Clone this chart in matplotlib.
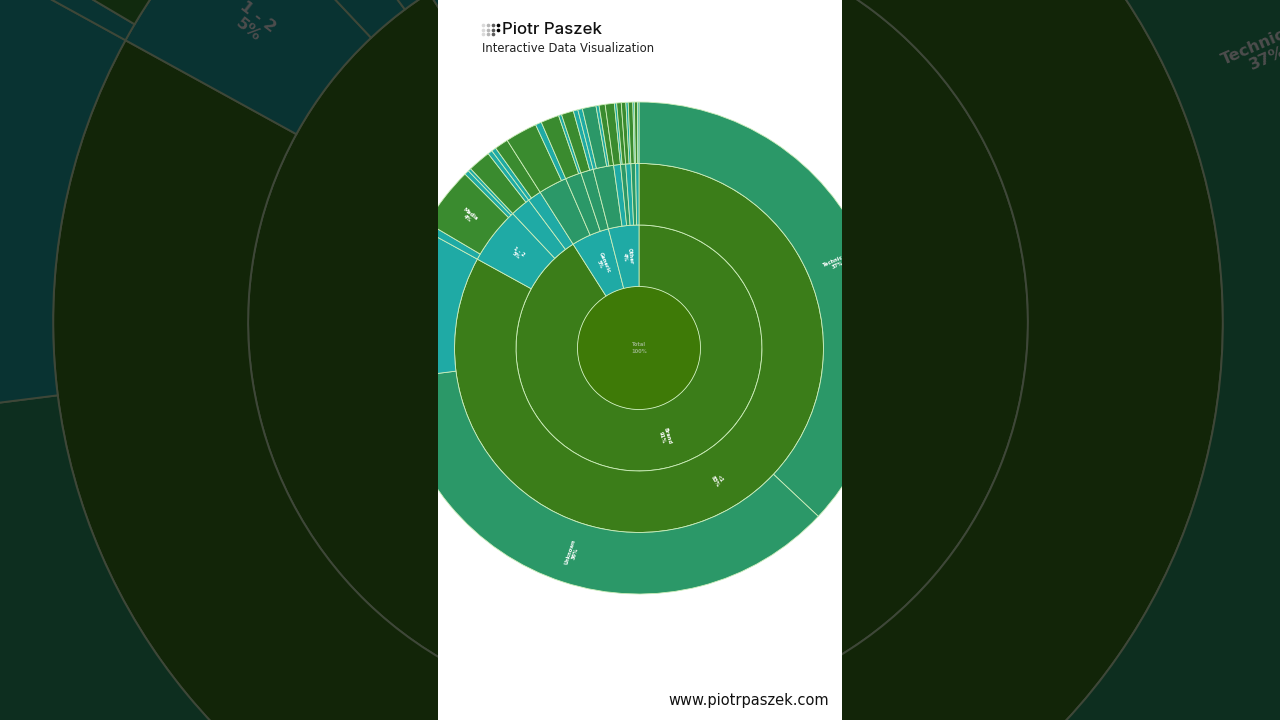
import numpy as np
import matplotlib
matplotlib.use("Agg")
import matplotlib.pyplot as plt
from matplotlib.patches import Rectangle
from matplotlib.transforms import Bbox, TransformedBbox

W, H = 1280, 720

# ---------------- data (percent of total) ----------------
root_label = "Total"
root_value = 100.0

ring1_labels = ["Brand", "Generic", "Other"]
ring1_values = [91.0, 5.0, 4.0]

ring2_labels = ["<1", "1 - 2", "2 - 3", "3+",
                "<1", "1 - 2", "2 - 3",
                "<1", "1 - 2", "2 - 3", "3 - 5", "5+", "n/a"]
ring2_parents = [0, 0, 0, 0, 1, 1, 1, 2, 2, 2, 2, 2, 2]
ring2_values = [83.0, 5.0, 1.8, 1.2, 2.5, 1.4, 1.1, 1.8, 0.6, 0.45, 0.45, 0.4, 0.3]

ring3_labels = ["Technical", "Unknown", "Direct",
                "Search", "Media", "Social", "Print",
                "Media", "Search",
                "Search", "Media",
                "Media", "Search",
                "Media", "Search",
                "Media", "Search",
                "Search", "Technical", "Social", "Media",
                "Media",
                "Search", "Media",
                "Media", "Search",
                "Media", "Search",
                "Media", "Search"]
ring3_parents = [0, 0, 0, 1, 1, 1, 1, 2, 2, 3, 3, 4, 4, 5, 5, 6, 6,
                 7, 7, 7, 7, 8, 9, 9, 10, 10, 11, 11, 12, 12]
ring3_values = [37.0, 36.0, 10.0, 0.5, 4.0, 0.3, 0.2, 1.5, 0.3, 0.3, 0.9,
                2.1, 0.4, 1.2, 0.2, 0.8, 0.3, 0.3, 0.9, 0.2, 0.4, 0.6,
                0.15, 0.3, 0.3, 0.15, 0.3, 0.1, 0.2, 0.1]

# ---------------- styles ----------------
CENTER = "#3e7a07"
GREEN = "#3b7d19"
SEA = "#2b9868"
TEAL = "#1faaa5"
MEDIA = "#3a8b2f"
EDGE = "#cdeebb"
ring1_colors = [GREEN, TEAL, TEAL]
ring2_colors = [GREEN, TEAL, TEAL, TEAL, SEA, SEA, SEA, SEA, TEAL, SEA, TEAL, SEA, TEAL]
ring3_cmap = {"Technical": SEA, "Unknown": SEA, "Media": MEDIA}
ring3_colors = [ring3_cmap.get(l, TEAL) for l in ring3_labels]


def place(values, parents, parent_starts):
    starts, offs = [], {}
    for v, p in zip(values, parents):
        starts.append(parent_starts[p] + offs.get(p, 0.0))
        offs[p] = offs.get(p, 0.0) + v
    return starts


ring1_starts = place(ring1_values, [0] * len(ring1_values), [0.0])
ring2_starts = place(ring2_values, ring2_parents, ring1_starts)
ring3_starts = place(ring3_values, ring3_parents, ring2_starts)

rings = [
    (ring1_labels, ring1_values, ring1_starts, ring1_colors),
    (ring2_labels, ring2_values, ring2_starts, ring2_colors),
    (ring3_labels, ring3_values, ring3_starts, ring3_colors),
]


def darken(c, f=0.3):
    r, g, b = matplotlib.colors.to_rgb(c)
    return (r * f, g * f, b * f)


def draw_sunburst(ax, dark=False, scale=1.0, clip=None, clip_box=None):
    ax.set_theta_zero_location("N")
    ax.set_theta_direction(-1)
    ax.set_ylim(0, 4)
    ax.set_axis_off()
    ax.patch.set_visible(False)
    f = (lambda c: darken(c)) if dark else (lambda c: c)
    edge = f(EDGE)
    lw = 0.6 * scale if not dark else 1.4
    fs = 3.7 * scale
    tcol = f("#ffffff")
    patches, texts = [], []
    b = ax.bar([np.pi], [1.0], width=[2 * np.pi], bottom=0.0,
               color=f(CENTER), linewidth=0)
    patches += list(b)
    t = ax.text(0, 0, f"{root_label}\n{root_value:.0f}%", ha="center", va="center",
                fontsize=fs, color=f("#93b07f"), fontweight="bold", linespacing=1.5)
    texts.append(t)
    for level, (labels, values, starts, cols) in enumerate(rings, start=1):
        th = [2 * np.pi * (s + v / 2) / 100 for s, v in zip(starts, values)]
        wd = [2 * np.pi * v / 100 for v in values]
        bars = ax.bar(th, [1.0] * len(values), width=wd, bottom=level,
                      color=[f(c) for c in cols], edgecolor=edge, linewidth=lw,
                      align="center")
        patches += list(bars)
        for lab, v, s in zip(labels, values, starts):
            if v < 3:
                continue
            ang = 360 * (s + v / 2) / 100
            rot = ((90 - ang + 90) % 180) - 90
            t = ax.text(np.deg2rad(ang), level + 0.5, f"{lab}\n{v:.0f}%",
                        rotation=rot, rotation_mode="anchor",
                        ha="center", va="center", fontsize=fs,
                        color=tcol, fontweight="bold", linespacing=1.1)
            texts.append(t)
    if clip is not None:
        for a in patches:
            a.set_clip_path(clip)
    if clip_box is not None:
        for a in texts:
            a.set_clip_box(clip_box)
            a.set_clip_on(True)


fig = plt.figure(figsize=(W / 100, H / 100), dpi=100)
fig.patch.set_facecolor("#0c2a22")

# background (zoomed, darkened copy of the same chart)
S = 3.17
bcx, bcy, bR = 638, 322, 246 * S
bg = fig.add_axes([(bcx - bR) / W, 1 - (bcy + bR) / H, 2 * bR / W, 2 * bR / H],
                  projection="polar", zorder=0)
draw_sunburst(bg, dark=True, scale=S)

# white panel
panel = Rectangle((438 / W, 0), 404 / W, 1, transform=fig.transFigure,
                  facecolor="white", edgecolor="none", zorder=1)
fig.add_artist(panel)
clip_rect = Rectangle((438 / W, 0), 404 / W, 1, transform=fig.transFigure)
clip_bbox = TransformedBbox(Bbox([[438 / W, 0], [842 / W, 1]]), fig.transFigure)

# foreground sunburst
cx, cy, R = 639, 348, 246
ax = fig.add_axes([(cx - R) / W, 1 - (cy + R) / H, 2 * R / W, 2 * R / H],
                  projection="polar", zorder=2)
draw_sunburst(ax, dark=False, scale=1.0, clip=clip_rect, clip_box=clip_bbox)

# overlay texts
ov = fig.add_axes([0, 0, 1, 1], zorder=3)
ov.set_xlim(0, W)
ov.set_ylim(H, 0)
ov.set_axis_off()
ov.patch.set_visible(False)

renderer = fig.canvas.get_renderer()


def fit_text(x, y, s, target_w, **kw):
    t = ov.text(x, y, s, **kw)
    w = t.get_window_extent(renderer).width
    t.set_fontsize(t.get_fontsize() * target_w / w)
    return t


fit_text(502, 29.5, "Piotr Paszek", 100, ha="left", va="center",
         family=["Inter", "DejaVu Sans"], fontsize=12, color="#111111", fontweight="medium")
fit_text(482, 49, "Interactive Data Visualization", 173, ha="left", va="center",
         family="DejaVu Sans", fontsize=8, color="#222222")
fit_text(668, 701, "www.piotrpaszek.com", 161, ha="left", va="center",
         family="DejaVu Sans", fontsize=10, color="#111111")

# logo dots
dot_x = [482.5, 487.5, 492.5, 497.5]
dot_y = [24.5, 29.5, 34.0]
dot_c = ["#d9d9d9", "#b5b5b5", "#5a5a5a", "#000000"]
for i, x in enumerate(dot_x):
    ys = dot_y if i < 3 else dot_y[:2]
    ov.scatter([x] * len(ys), ys, s=7, color=dot_c[i], linewidths=0)

fig.savefig("out.png", dpi=100, facecolor=fig.get_facecolor())
